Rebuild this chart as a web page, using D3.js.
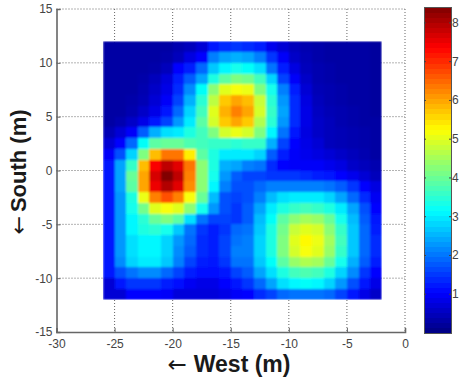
<!DOCTYPE html>
<html>
<head>
<meta charset="utf-8">
<script src="https://cdn.jsdelivr.net/npm/d3@7"></script>
<style>
  html, body { margin: 0; padding: 0; background: #fff; }
  svg { display: block; font-family: "Liberation Sans", Arial, sans-serif; }
  .tick-label { font-size: 12px; fill: #444; }
  .axis-title { font-weight: bold; fill: #1a1a1a; }
  .arrow { font-family: "DejaVu Sans", sans-serif; font-weight: normal; }
</style>
</head>
<body>
<svg id="chart" width="474" height="379"></svg>
<script>
// axis ticks
const xTicks = [-30, -25, -20, -15, -10, -5, 0];
const yTicks = [15, 10, 5, 0, -5, -10, -15];
const barTicks = [1, 2, 3, 4, 5, 6, 7, 8];

// left edge of each cell in metres, west to east
const cellX = [-26, -25, -24, -23, -22, -21, -20, -19, -18, -17, -16, -15, -14, -13, -12, -11, -10, -9, -8, -7, -6, -5, -4, -3];
// top edge of each cell in metres, north to south
const cellY = [12, 11, 10, 9, 8, 7, 6, 5, 4, 3, 2, 1, 0, -1, -2, -3, -4, -5, -6, -7, -8, -9, -10, -11];

// one row per cellY
const intensity = [
  [.3, .3, .3, .3, .3, .3, .4, .5, .7, 1.2, 1.4, 1.5, 1.4, 1.3, .9, .7, .5, .4, .35, .3, .3, .3, .3, .25],
  [.3, .3, .3, .3, .3, .35, .5, .8, 1.1, 2.1, 2.4, 2.5, 2.4, 2.1, 1.5, 1, .6, .45, .35, .3, .3, .3, .3, .25],
  [.3, .3, .3, .3, .35, .5, 1.1, 1.3, 1.9, 2.7, 3.1, 3.3, 3.2, 2.9, 2, 1.3, .8, .5, .4, .35, .3, .3, .3, .25],
  [.3, .3, .3, .35, .5, .75, 1.3, 1.8, 2.4, 3.4, 3.9, 4.2, 4.1, 3.7, 2.8, 1.6, 1, .6, .4, .35, .3, .3, .3, .25],
  [.3, .3, .3, .4, .6, .85, 1.4, 2.2, 3.2, 4.3, 5, 5.2, 5.1, 4.2, 3.3, 2.1, 1.3, .7, .45, .4, .35, .3, .3, .25],
  [.3, .3, .35, .45, .7, 1, 1.6, 2.5, 3.5, 4.7, 5.7, 6, 5.8, 4.8, 3.5, 2.3, 1.4, .8, .5, .4, .35, .3, .3, .25],
  [.3, .3, .4, .6, .85, 1.2, 1.9, 2.8, 3.7, 5, 5.9, 6.3, 6, 4.9, 3.6, 2.4, 1.4, .85, .55, .45, .4, .35, .3, .25],
  [.3, .4, .6, .85, 1.2, 1.6, 2.3, 3, 3.9, 4.9, 5.7, 6, 5.7, 4.6, 3.5, 2.3, 1.4, .85, .6, .5, .4, .35, .3, .3],
  [.45, .7, 1, 1.8, 2.5, 2.9, 3, 3.4, 3.7, 4.2, 4.9, 5.1, 4.9, 4.2, 3.1, 2, 1.2, .8, .6, .5, .45, .4, .35, .3],
  [.7, 1.1, 1.9, 3.2, 3.9, 4, 4, 3.8, 3.7, 3.6, 3.6, 3.5, 3.6, 3.6, 2.5, 1.6, 1.1, .85, .7, .5, .45, .4, .35, .3],
  [1, 1.7, 2.8, 4.2, 5.8, 6.4, 6.4, 5.4, 3.9, 3.4, 3, 3, 3, 2.8, 1.8, 1.3, 1, .9, .8, .7, .6, .5, .4, .3],
  [1.2, 2.4, 3.6, 5.8, 7.4, 7.9, 7.6, 6.4, 4.3, 3.4, 2.5, 2.4, 2.1, 2, 1.4, 1.1, 1, 1, 1, .9, .8, .6, .5, .4],
  [1.2, 2.4, 4, 6, 7.7, 8.4, 7.9, 6.3, 4.3, 3.3, 2.3, 1.8, 1.6, 1.6, 1.5, 1.5, 1.5, 1.4, 1.3, 1.2, 1.1, .9, .7, .5],
  [1.2, 2.4, 3.9, 6, 7.5, 8, 7.6, 6.2, 4.3, 3.1, 2.1, 1.7, 1.7, 1.9, 2.1, 2.1, 2.1, 2.1, 2.1, 2, 1.8, 1.5, 1.1, .8],
  [1.2, 2.3, 3.4, 5.1, 6.3, 6.7, 6.3, 5.2, 4, 2.6, 1.7, 1.6, 1.7, 2.1, 2.6, 2.9, 3, 3, 3, 2.8, 2.4, 1.9, 1.4, .95],
  [1.2, 2.3, 3.3, 4.1, 5, 5.2, 5, 4.3, 3.3, 2.3, 1.7, 1.5, 1.8, 2.4, 3, 3.4, 3.6, 3.7, 3.6, 3.4, 3, 2.4, 1.7, 1.1],
  [1.2, 2.3, 3.1, 3.5, 4, 4.2, 3.9, 2.9, 2, 1.6, 1.6, 1.5, 1.8, 2.6, 3.2, 3.9, 4.3, 4.5, 4.4, 4, 3.3, 2.6, 1.8, 1.2],
  [1.2, 2.3, 3.1, 3.4, 3.5, 3.3, 2.7, 2, 1.5, 1.3, 1.5, 1.9, 2, 2.7, 3.4, 4.1, 4.8, 5, 4.9, 4.3, 3.6, 2.7, 1.9, 1.3],
  [1.2, 2.3, 2.9, 3.1, 3.1, 2.8, 2.3, 1.9, 1.4, 1.3, 1.6, 2, 2.1, 2.8, 3.4, 4.2, 5, 5.3, 5.1, 4.5, 3.7, 2.7, 1.9, 1.4],
  [1.2, 2.3, 2.9, 3.1, 3.1, 2.8, 2.2, 1.8, 1.4, 1.3, 1.6, 2.1, 2.1, 2.8, 3.4, 4.2, 4.9, 5.2, 5, 4.4, 3.6, 2.7, 1.9, 1.4],
  [1.2, 2.2, 2.8, 3, 3, 2.7, 2.1, 1.6, 1.3, 1.2, 1.5, 2, 2, 2.7, 3.2, 3.9, 4.4, 4.6, 4.5, 4, 3.3, 2.5, 1.8, 1.3],
  [1.2, 1.7, 2, 2.2, 2.2, 1.9, 1.6, 1.3, 1.15, 1.15, 1.25, 1.6, 1.8, 2.4, 2.9, 3.4, 3.7, 3.8, 3.7, 3.4, 2.8, 2.2, 1.5, 1.1],
  [.7, 1.2, 1.5, 1.5, 1.5, 1.3, 1.15, .95, .85, .85, 1.05, 1.25, 1.5, 1.9, 2.4, 2.9, 3.1, 3.2, 3.1, 2.8, 2.3, 1.7, 1.2, .85],
  [.7, .7, 1.1, 1.1, 1.1, 1, .75, .75, .75, .75, .85, 1, 1.1, 1.4, 1.6, 1.9, 2, 2, 2, 1.9, 1.6, 1.2, .85, .6],
];

const jetStops = ["#000080", "#0000ff", "#00ffff", "#ffff00", "#ff0000", "#800000"];
const jetPositions = [0, 0.125, 0.375, 0.625, 0.875, 1];
const valueMin = 0;
const valueMax = 8.41;

const svg = d3.select("#chart");

const x = d3.scaleLinear().domain([-30, 0]).range([56.5, 405]);
const y = d3.scaleLinear().domain([-15, 15]).range([332, 9]);

const jet = d3.scaleLinear().domain(jetPositions).range(jetStops).clamp(true);
const color = (v) => jet((v - valueMin) / (valueMax - valueMin));

// the source is a soft jpeg, so take the hard edge off the cells
svg
  .append("defs")
  .append("filter")
  .attr("id", "soften")
  .append("feGaussianBlur")
  .attr("stdDeviation", 0.8);

// dotted grid sits under the heatmap
const grid = svg.append("g").attr("stroke", "#666").attr("stroke-width", 1).attr("stroke-dasharray", "1,2");

grid
  .selectAll(".grid-x")
  .data(xTicks.filter((d) => d !== -30))
  .join("line")
  .attr("x1", (d) => x(d))
  .attr("x2", (d) => x(d))
  .attr("y1", y(15))
  .attr("y2", y(-15));

grid
  .selectAll(".grid-y")
  .data(yTicks.filter((d) => d !== -15))
  .join("line")
  .attr("x1", x(-30))
  .attr("x2", x(0))
  .attr("y1", (d) => y(d))
  .attr("y2", (d) => y(d));

// heatmap, clipped so the blur doesn't bleed past its edge
svg
  .append("clipPath")
  .attr("id", "heat-clip")
  .append("rect")
  .attr("x", x(-26))
  .attr("y", y(12))
  .attr("width", x(-2) - x(-26))
  .attr("height", y(-12) - y(12));

const cells = intensity.flatMap((row, j) => row.map((v, i) => ({ x0: cellX[i], y0: cellY[j], v })));

svg
  .append("g")
  .attr("clip-path", "url(#heat-clip)")
  .append("g")
  .attr("filter", "url(#soften)")
  .attr("shape-rendering", "crispEdges")
  .selectAll("rect")
  .data(cells)
  .join("rect")
  .attr("x", (d) => x(d.x0))
  .attr("y", (d) => y(d.y0))
  .attr("width", x(1) - x(0) + 0.5)
  .attr("height", y(0) - y(1) + 0.5)
  .attr("fill", (d) => color(d.v));

// axes
const xAxis = d3.axisBottom(x).tickValues(xTicks).tickSize(-4).tickPadding(7).tickFormat((d) => String(d));
const yAxis = d3.axisLeft(y).tickValues(yTicks).tickSize(-4).tickPadding(4).tickFormat((d) => String(d));

const styleAxis = (g) => {
  g.select(".domain").attr("stroke", "#666").attr("stroke-width", 1.6);
  g.selectAll(".tick line").attr("stroke", "#666");
  g.selectAll("text").attr("class", "tick-label").attr("fill", null);
};

svg.append("g").attr("transform", `translate(0,${y(-15)})`).call(xAxis).call(styleAxis);
svg.append("g").attr("transform", `translate(${x(-30)},0)`).call(yAxis).call(styleAxis);

// colorbar
const barY = d3.scaleLinear().domain([valueMin, valueMax]).range([333, 7]);
const BAR_LEFT = 424;
const BAR_RIGHT = 451;
const barLevels = d3.range(64);

const bar = svg.append("g").attr("shape-rendering", "crispEdges");

bar
  .selectAll("rect")
  .data(barLevels)
  .join("rect")
  .attr("x", BAR_LEFT)
  .attr("width", BAR_RIGHT - BAR_LEFT)
  .attr("y", (d) => barY(valueMin + ((d + 1) / 64) * (valueMax - valueMin)))
  .attr("height", (barY(0) - barY(valueMax)) / 64 + 0.5)
  .attr("fill", (d) => jet((d + 0.5) / 64));

bar
  .append("rect")
  .attr("x", BAR_LEFT)
  .attr("y", 7)
  .attr("width", BAR_RIGHT - BAR_LEFT)
  .attr("height", 326)
  .attr("fill", "none")
  .attr("stroke", "#555");

const barTick = svg.append("g").selectAll("g").data(barTicks).join("g");

barTick
  .append("line")
  .attr("x1", BAR_LEFT)
  .attr("x2", BAR_LEFT + 2)
  .attr("y1", (d) => barY(d))
  .attr("y2", (d) => barY(d))
  .attr("stroke", "#444");

barTick
  .append("line")
  .attr("x1", BAR_RIGHT - 2)
  .attr("x2", BAR_RIGHT)
  .attr("y1", (d) => barY(d))
  .attr("y2", (d) => barY(d))
  .attr("stroke", "#444");

barTick
  .append("text")
  .attr("class", "tick-label")
  .attr("x", BAR_RIGHT + 1)
  .attr("y", (d) => barY(d) + 4)
  .text((d) => d);

// titles, arrow in its own font because Liberation's is tiny
const westTitle = svg
  .append("text")
  .attr("class", "axis-title")
  .attr("text-anchor", "middle")
  .attr("x", 229)
  .attr("y", 372)
  .style("font-size", "23px");
westTitle.append("tspan").attr("class", "arrow").text("←");
westTitle.append("tspan").attr("dx", 7).text("West (m)");

const southTitle = svg
  .append("text")
  .attr("class", "axis-title")
  .attr("text-anchor", "middle")
  .attr("transform", "translate(26,172) rotate(-90)")
  .style("font-size", "22px");
southTitle.append("tspan").attr("class", "arrow").text("←");
southTitle.append("tspan").attr("dx", 4).text("South (m)");
</script>
</body>
</html>
